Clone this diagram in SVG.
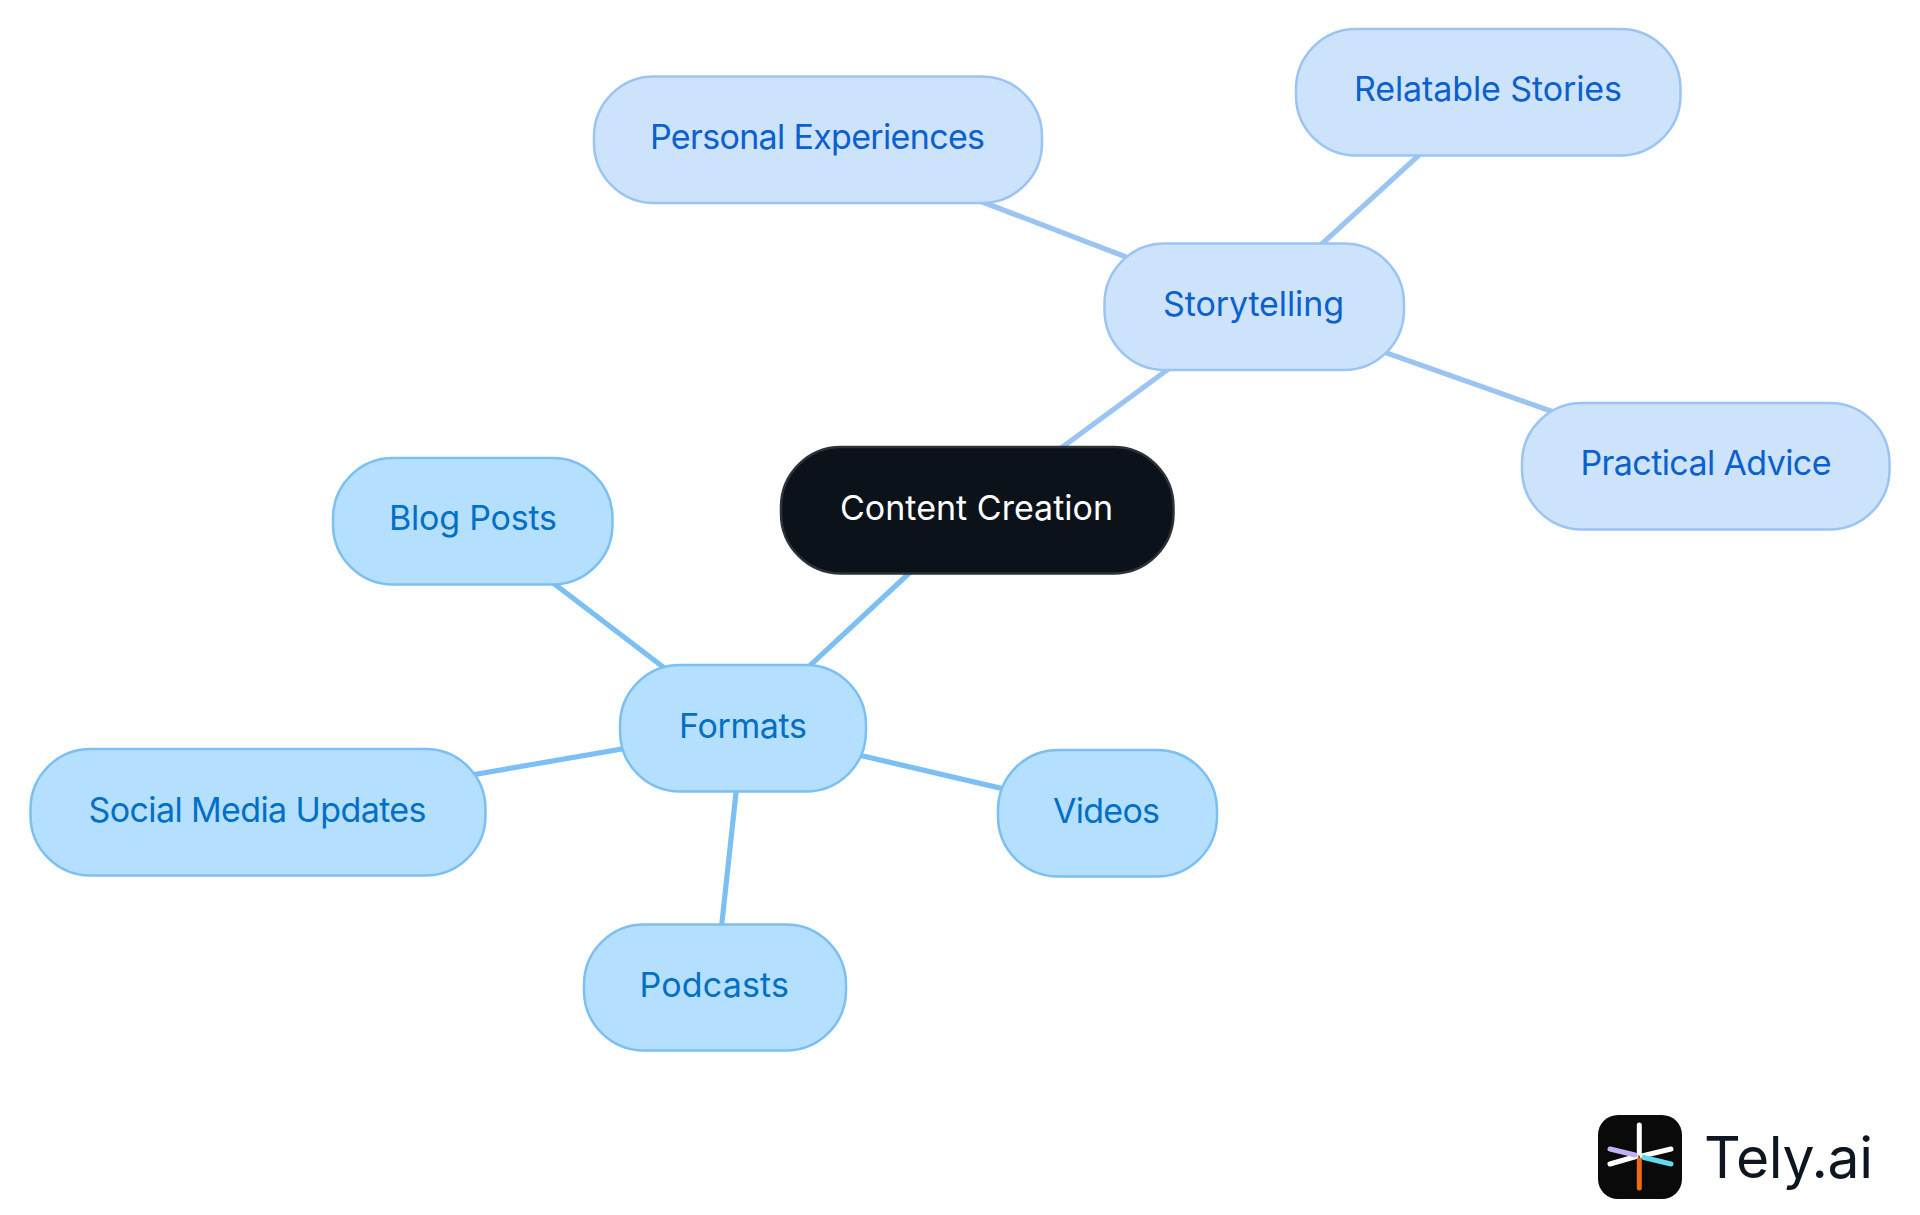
<svg xmlns="http://www.w3.org/2000/svg" width="1920" height="1215" viewBox="0 0 1920 1215">
<style>
text{font-family:Inter,"Noto Sans","Liberation Sans",sans-serif;font-size:34px;font-weight:380}
.n{stroke-width:2.5}
.root rect{fill:#0b121a;stroke:#2e3238}
.root text{fill:#fff}
.s rect{fill:#cde3fc;stroke:#9bc4f3}
.s text{fill:#0a60cc}
.f rect{fill:#b5dfff;stroke:#7cbff2}
.f text{fill:#006fc4}
.es line{stroke:#9bc4f3;stroke-width:5.200}
.ef line{stroke:#7cbff2;stroke-width:5.200}
.spoke{stroke-width:5;stroke-linecap:round;fill:none}
</style>
<rect width="1920" height="1215" fill="#fff"/>
<g id="connectors">
<g class="es">
<line x1="977" y1="510" x2="1254" y2="306"/>
<line x1="1254" y1="306" x2="818" y2="139"/>
<line x1="1254" y1="306" x2="1488" y2="92"/>
<line x1="1254" y1="306" x2="1706" y2="466"/>
</g>
<g class="ef">
<line x1="977" y1="510" x2="743" y2="728"/>
<line x1="743" y1="728" x2="472" y2="521"/>
<line x1="743" y1="728" x2="258" y2="812"/>
<line x1="743" y1="728" x2="1107" y2="813"/>
<line x1="743" y1="728" x2="715" y2="987"/>
</g>
</g>
<g id="node-content-creation" class="root n"><rect x="781" y="447" width="392.500" height="126.500" rx="60"/><text x="840" y="519.500" textLength="273" stroke="none">Content Creation</text></g>
<g id="node-storytelling" class="s n"><rect x="1104.500" y="243.500" width="299.500" height="126.500" rx="60"/><text x="1163" y="315.500" textLength="181" stroke="none">Storytelling</text></g>
<g id="node-personal-experiences" class="s n"><rect x="594" y="76.500" width="448" height="126.500" rx="60"/><text x="650" y="148.500" textLength="335" stroke="none">Personal Experiences</text></g>
<g id="node-relatable-stories" class="s n"><rect x="1296" y="29" width="384.500" height="126.500" rx="60"/><text x="1354" y="101" textLength="268" stroke="none">Relatable Stories</text></g>
<g id="node-practical-advice" class="s n"><rect x="1522" y="403" width="367.500" height="126.500" rx="60"/><text x="1580.500" y="475" textLength="251" stroke="none">Practical Advice</text></g>
<g id="node-formats" class="f n"><rect x="620" y="665" width="246" height="126.500" rx="60"/><text x="679" y="738" textLength="128" stroke="none">Formats</text></g>
<g id="node-blog-posts" class="f n"><rect x="333" y="458" width="279.500" height="126.500" rx="60"/><text x="389" y="530" textLength="168" stroke="none">Blog Posts</text></g>
<g id="node-social-media-updates" class="f n"><rect x="30.500" y="749" width="455" height="126.500" rx="60"/><text x="88.500" y="822" textLength="338" stroke="none">Social Media Updates</text></g>
<g id="node-videos" class="f n"><rect x="998" y="750" width="219" height="126.500" rx="60"/><text x="1053" y="823" textLength="107" stroke="none">Videos</text></g>
<g id="node-podcasts" class="f n"><rect x="584" y="924.500" width="262" height="126" rx="60"/><text x="639.500" y="996.500" textLength="149.500" stroke="none">Podcasts</text></g>
<g id="logo">
<rect x="1598" y="1115" width="84" height="84" rx="20" fill="#0a0a0a"/>
<path class="spoke" stroke="#fff" d="M1639.300 1125V1153M1610 1164L1636 1156.500M1671 1149L1642 1156"/>
<path class="spoke" stroke="#c4b0f5" d="M1610 1149L1635 1155"/>
<path class="spoke" stroke="#5fdcef" d="M1644 1157.500L1671 1164"/>
<path class="spoke" stroke="#f26a0f" d="M1639.300 1160V1188"/>
<text x="1704" y="1178" textLength="169" style="font-size:57px;font-weight:400" fill="#0e1621">Tely.ai</text>
</g>
</svg>
